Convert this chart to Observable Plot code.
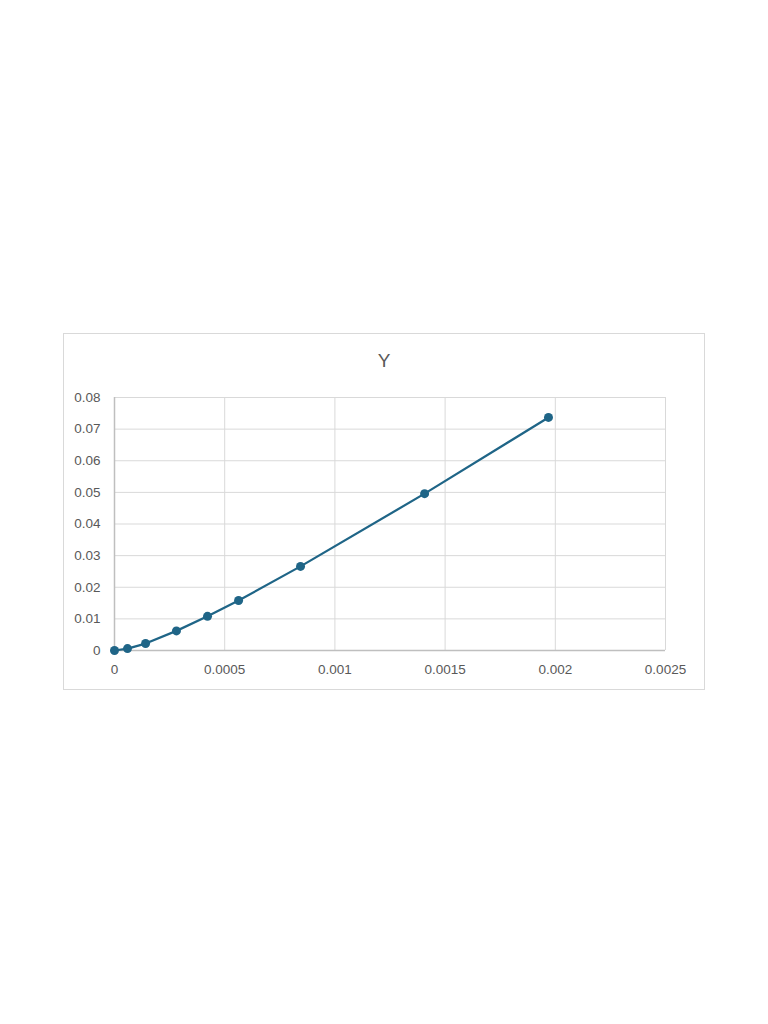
<!DOCTYPE html>
<html>
<head>
<meta charset="utf-8">
<script src="https://cdn.jsdelivr.net/npm/d3@7"></script>
<script src="https://cdn.jsdelivr.net/npm/@observablehq/plot@0.6"></script>
<style>
  html, body { margin: 0; padding: 0; background: #fff; }
  body { width: 768px; height: 1024px; position: relative; font-family: "Liberation Sans", Arial, sans-serif; }
  #box { position: absolute; left: 63px; top: 333px; width: 642px; height: 357px; box-sizing: border-box; border: 1px solid #d9d9d9; background: #fff; }
  #title { position: absolute; left: 0; right: 0; top: 16px; text-align: center; font-size: 19px; color: #595959; }
  #chart { position: absolute; left: 0px; top: 46px; }
</style>
</head>
<body>
<div id="box">
  <div id="title">Y</div>
  <div id="chart"></div>
</div>
<script>
const xValues = [0, 0.000059, 0.000141, 0.000281, 0.000422, 0.000563, 0.000844, 0.001407, 0.001969];
const yValues = [0, 0.0006, 0.0022, 0.0062, 0.0108, 0.0158, 0.0266, 0.0496, 0.0737];
const xTicks = [0, 0.0005, 0.001, 0.0015, 0.002, 0.0025];
const xTickLabels = ["0", "0.0005", "0.001", "0.0015", "0.002", "0.0025"];
const yTicks = [0, 0.01, 0.02, 0.03, 0.04, 0.05, 0.06, 0.07, 0.08];
const yTickLabels = ["0", "0.01", "0.02", "0.03", "0.04", "0.05", "0.06", "0.07", "0.08"];

const data = xValues.map((x, i) => ({x, y: yValues[i]}));
const color = "#1f6587";

const plot = Plot.plot({
  width: 640,
  height: 302,
  marginLeft: 50,
  marginRight: 39,
  marginTop: 17,
  marginBottom: 32,
  style: {fontFamily: "'Liberation Sans', Arial, sans-serif", fontSize: "13.5px", color: "#595959", background: "#fff"},
  x: {domain: [0, 0.0025], label: null},
  y: {domain: [0, 0.08], label: null},
  marks: [
    Plot.gridX(xTicks, {stroke: "#d9d9d9", strokeOpacity: 1, strokeWidth: 1}),
    Plot.gridY(yTicks, {stroke: "#d9d9d9", strokeOpacity: 1, strokeWidth: 1}),
    Plot.ruleX([0], {stroke: "#bfbfbf", strokeWidth: 1.5}),
    Plot.ruleY([0], {stroke: "#bfbfbf", strokeWidth: 1.5}),
    Plot.axisX({ticks: xTicks, tickFormat: (d) => xTickLabels[xTicks.indexOf(d)], tickSize: 0, tickPadding: 14, fill: "#595959", fontSize: 13.5, label: null}),
    Plot.axisY({ticks: yTicks, tickFormat: (d) => yTickLabels[yTicks.indexOf(d)], tickSize: 0, tickPadding: 14, fill: "#595959", fontSize: 13.5, label: null}),
    Plot.line(data, {x: "x", y: "y", stroke: color, strokeWidth: 2.25}),
    Plot.dot(data, {x: "x", y: "y", fill: color, r: 4.5})
  ]
});
document.getElementById("chart").appendChild(plot);
</script>
</body>
</html>
